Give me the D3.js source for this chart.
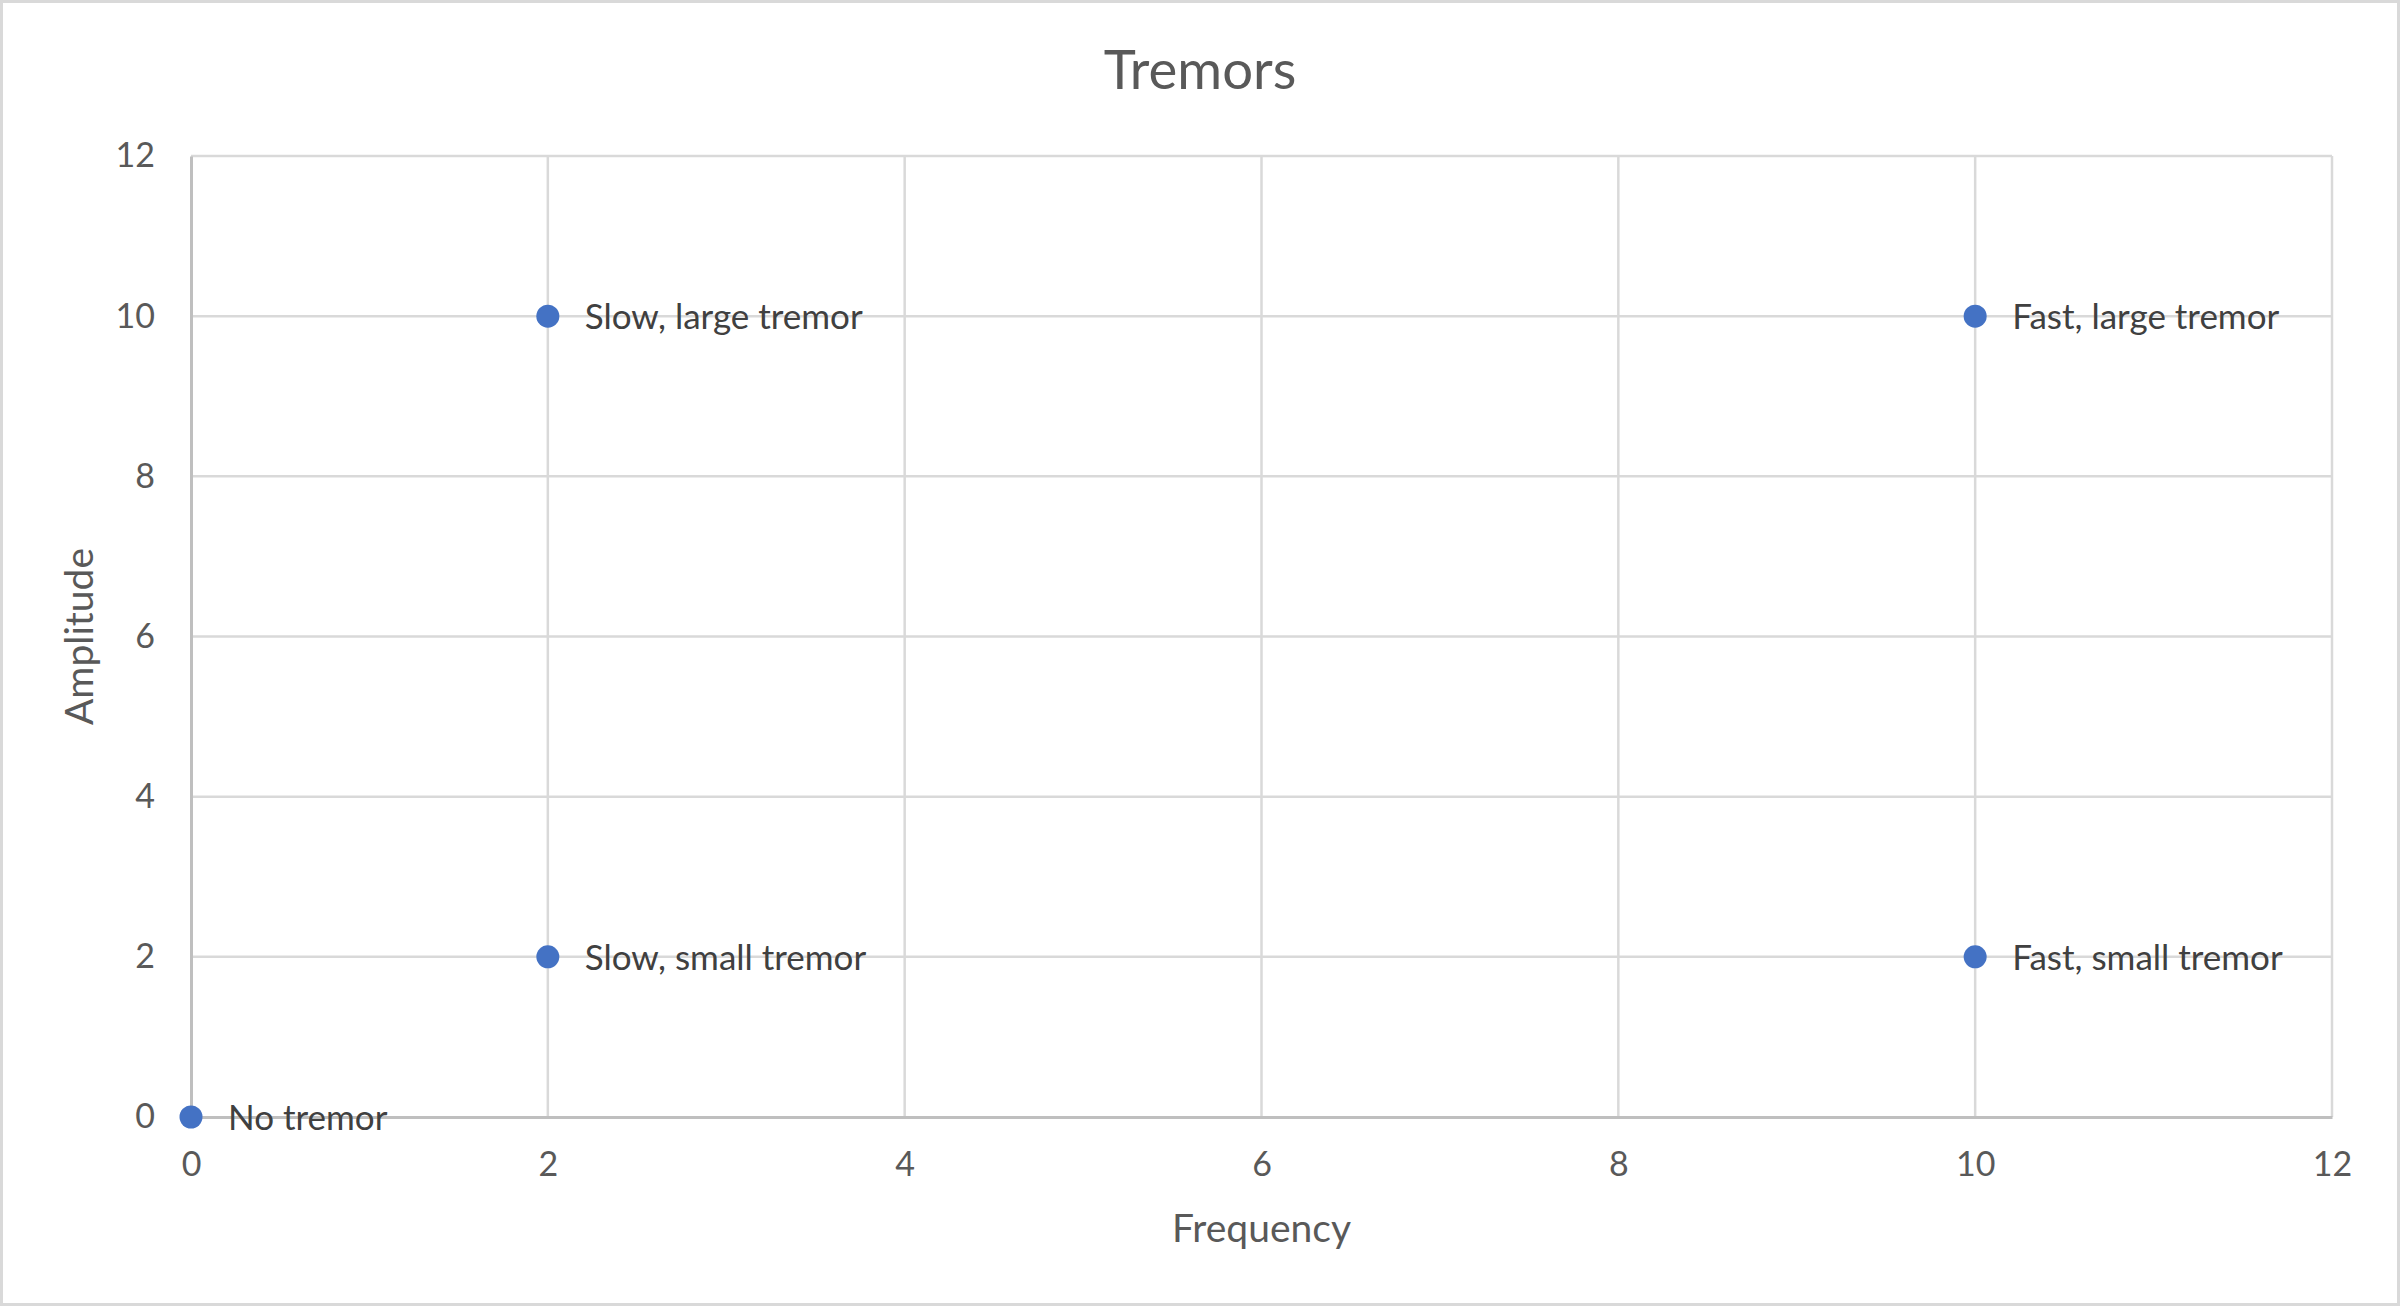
<!DOCTYPE html>
<html>
<head>
<meta charset="utf-8">
<script src="https://cdn.jsdelivr.net/npm/d3@7"></script>
<style>
  html, body { margin: 0; padding: 0; background: #fff; }
  svg text { font-family: Lato, "Open Sans", sans-serif; fill: #595959; }
</style>
</head>
<body>
<div id="chart"></div>
<script>
// data
const labels = ["No tremor", "Slow, small tremor", "Slow, large tremor", "Fast, large tremor", "Fast, small tremor"];
const frequency = [0, 2, 2, 10, 10];
const amplitude = [0, 2, 10, 10, 2];
const xTicks = [0, 2, 4, 6, 8, 10, 12];
const yTicks = [0, 2, 4, 6, 8, 10, 12];

const width = 2400, height = 1306;
const margin = { top: 156, right: 68, bottom: 189, left: 191 };

const svg = d3.select("#chart").append("svg")
    .attr("width", width)
    .attr("height", height);

// chart border
svg.append("rect")
    .attr("x", 1.5).attr("y", 1.5)
    .attr("width", width - 3).attr("height", height - 3)
    .attr("fill", "#fff")
    .attr("stroke", "#d9d9d9")
    .attr("stroke-width", 3);

const x = d3.scaleLinear().domain([0, 12]).range([margin.left, width - margin.right]);
const y = d3.scaleLinear().domain([0, 12]).range([height - margin.bottom, margin.top]);

// gridlines
const grid = svg.append("g").attr("stroke", "#d9d9d9").attr("stroke-width", 2.5);
grid.selectAll("line.v")
    .data(xTicks.filter(d => d > 0))
    .enter().append("line")
    .attr("x1", d => x(d)).attr("x2", d => x(d))
    .attr("y1", y(0)).attr("y2", y(12));
grid.selectAll("line.h")
    .data(yTicks.filter(d => d > 0))
    .enter().append("line")
    .attr("x1", x(0)).attr("x2", x(12))
    .attr("y1", d => y(d)).attr("y2", d => y(d));

// axes
const xAxis = svg.append("g")
    .attr("transform", `translate(0,${y(0)})`)
    .call(d3.axisBottom(x).tickValues(xTicks).tickSize(0).tickPadding(42).tickFormat(d3.format("d")));
const yAxis = svg.append("g")
    .attr("transform", `translate(${x(0)},0)`)
    .call(d3.axisLeft(y).tickValues(yTicks).tickSize(0).tickPadding(36).tickFormat(d3.format("d")));

[xAxis, yAxis].forEach(g => {
    g.select(".domain").attr("stroke", "#bfbfbf").attr("stroke-width", 3);
    g.selectAll("text").attr("font-size", 34).attr("fill", "#595959")
        .style("font-family", "Lato, 'Open Sans', sans-serif");
});
xAxis.selectAll("text").attr("dy", "0.5em");

// points
const pts = labels.map((l, i) => ({ label: l, fx: frequency[i], amp: amplitude[i] }));

svg.append("g")
    .selectAll("circle")
    .data(pts)
    .enter().append("circle")
    .attr("cx", d => x(d.fx))
    .attr("cy", d => y(d.amp))
    .attr("r", 11.5)
    .attr("fill", "#4472c4");

svg.append("g")
    .selectAll("text")
    .data(pts)
    .enter().append("text")
    .attr("x", d => x(d.fx) + 37)
    .attr("y", d => y(d.amp))
    .attr("dy", "0.38em")
    .attr("font-size", 35)
    .style("fill", "#404040")
    .text(d => d.label);

// titles
svg.append("text")
    .attr("x", width / 2).attr("y", 89)
    .attr("text-anchor", "middle")
    .attr("font-size", 54.5)
    .text("Tremors");

svg.append("text")
    .attr("x", (x(0) + x(12)) / 2).attr("y", 1242)
    .attr("text-anchor", "middle")
    .attr("font-size", 39)
    .text("Frequency");

svg.append("text")
    .attr("transform", `translate(93,${(y(0) + y(12)) / 2}) rotate(-90)`)
    .attr("text-anchor", "middle")
    .attr("font-size", 39)
    .text("Amplitude");
</script>
</body>
</html>
